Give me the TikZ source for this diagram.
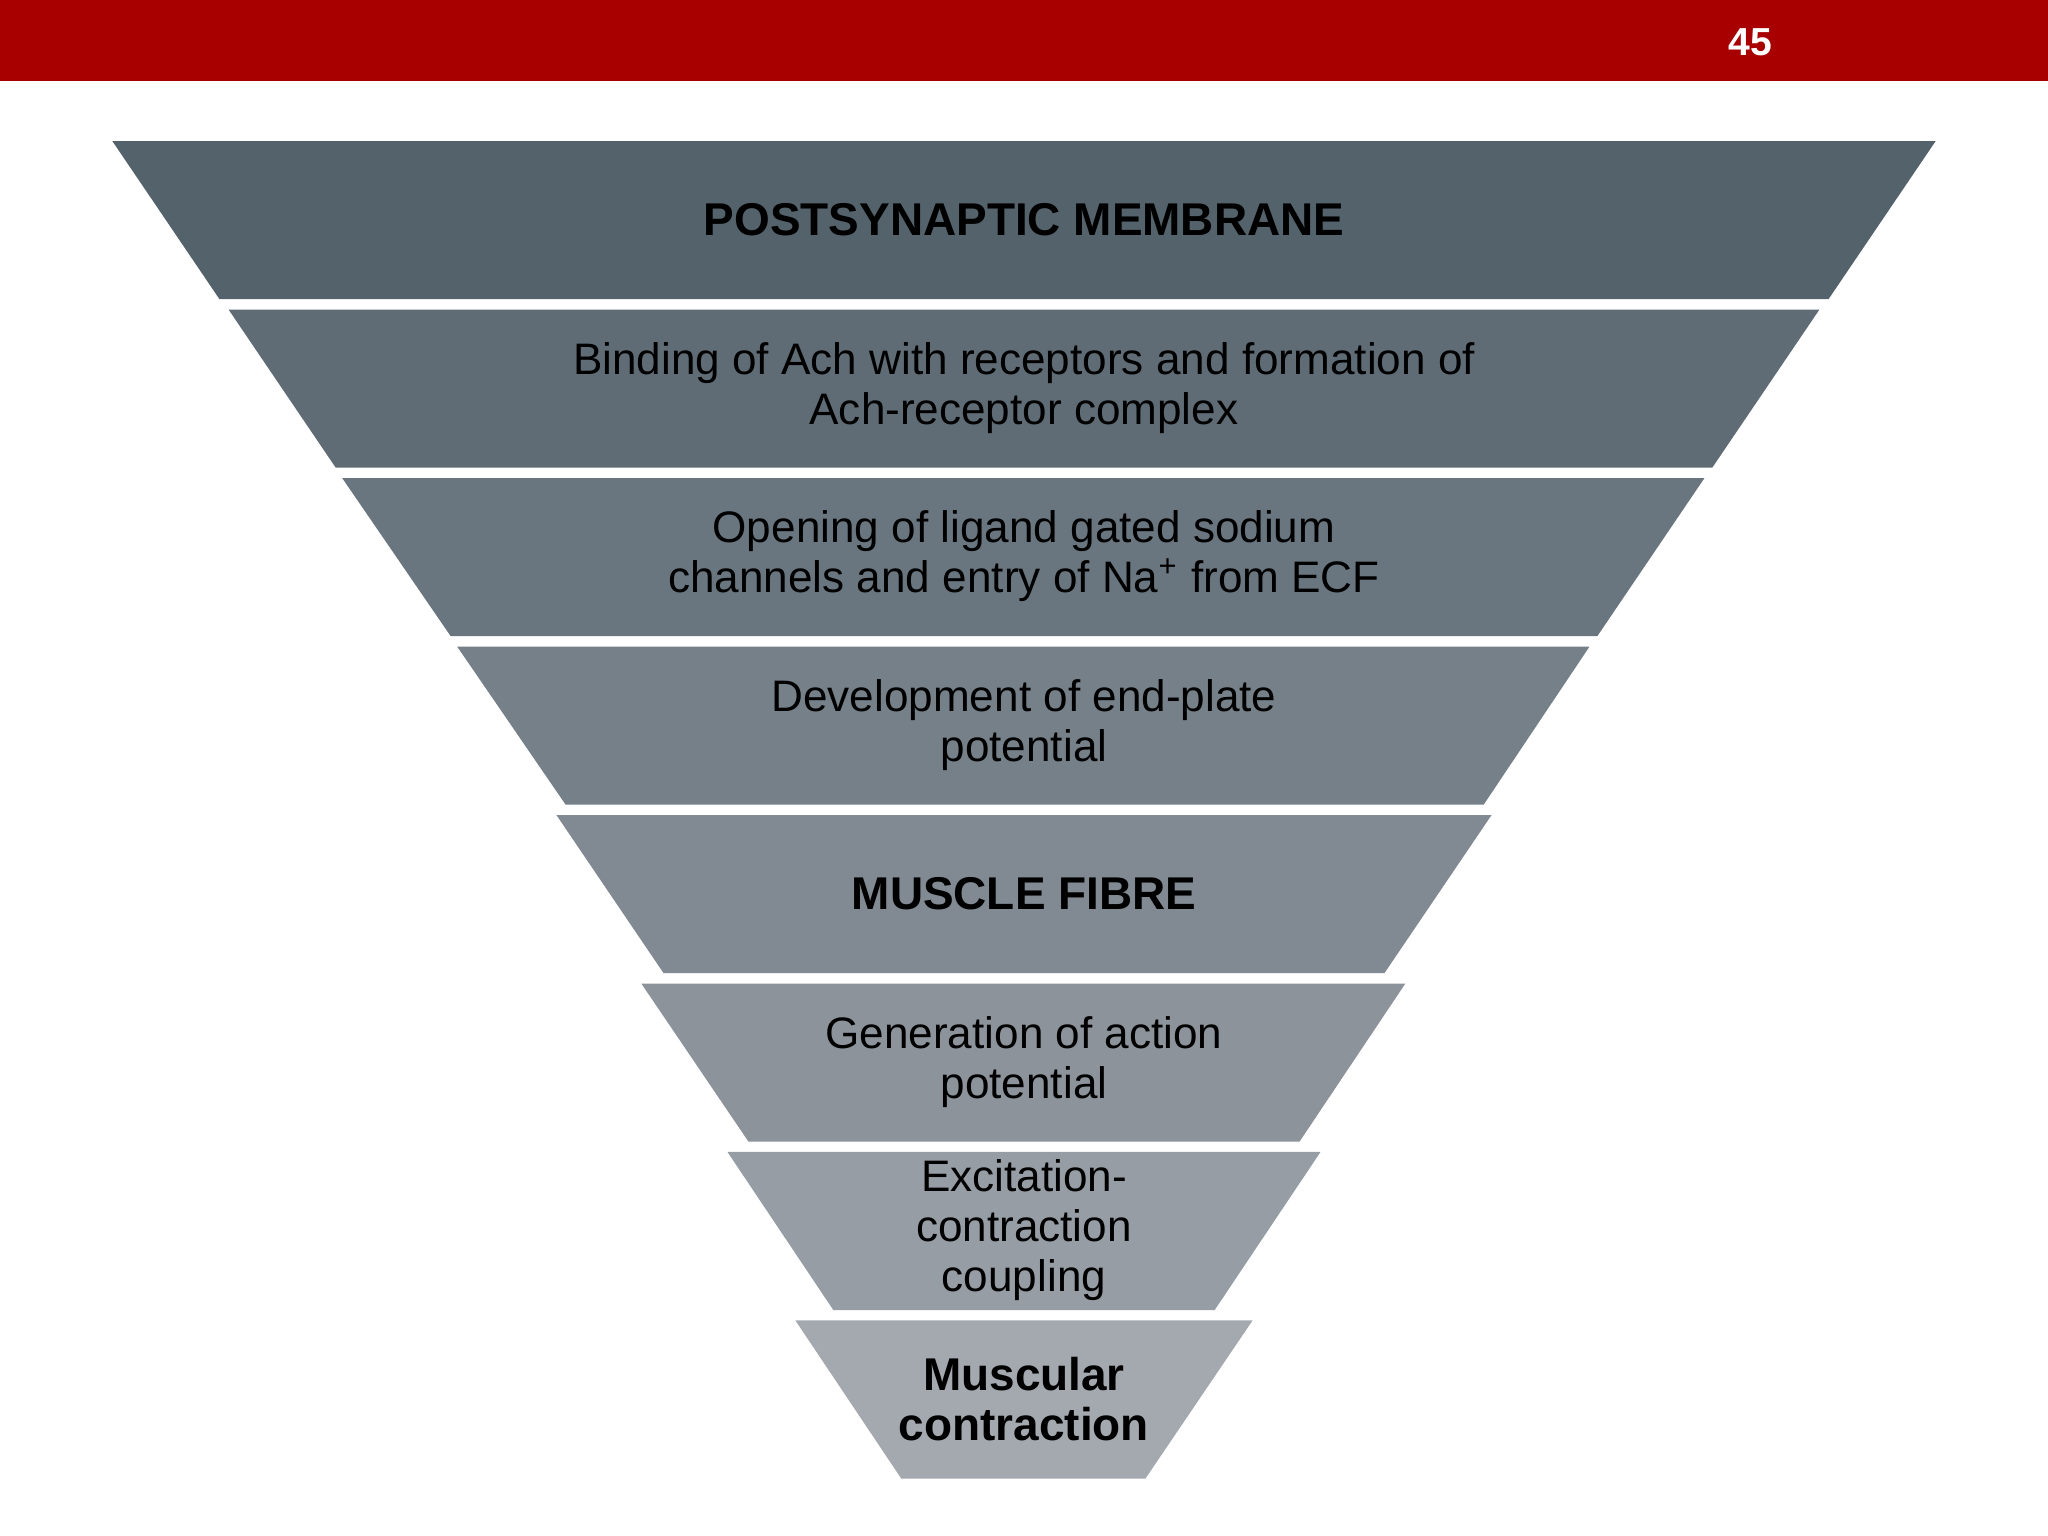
\documentclass[tikz,border=0pt]{standalone}
\usepackage{fontspec}
\setmainfont{Liberation Sans}
\definecolor{barred}{HTML}{A80000}
\definecolor{ctop}{HTML}{54626C}
\definecolor{cbot}{HTML}{A4A8AF}
\begin{document}
\begin{tikzpicture}[x=0.01cm,y=-0.01cm,
  lbl/.style={align=center,font=\fontsize{9.6}{10.9}\selectfont,text=black,inner sep=0},
  hdr/.style={lbl,font=\fontsize{10}{11}\selectfont\bfseries}]
\useasboundingbox (0,0) rectangle (1568,1176);
\fill[white] (0,0) rectangle (1568,1176);
\fill[barred] (0,0) rectangle (1568,62);
\node[text=white,font=\fontsize{8.5}{10}\selectfont\bfseries] (pg) at (1340,32) {45};
\def\lev#1#2#3#4#5#6#7{%
  \fill[cbot!#7!ctop] (#3,#1) -- (#4,#1) -- (#6,#2) -- (#5,#2) -- cycle;}
\lev{108}{229}{86}{1482}{168}{1400}{0}
\lev{237}{358}{175}{1393}{257}{1311}{14}
\lev{366}{487}{262}{1305}{345}{1223}{28}
\lev{495}{616}{350}{1217}{433}{1136}{42}
\lev{624}{745}{426}{1142}{508}{1060}{56}
\lev{753}{874}{491}{1076}{573}{995}{70}
\lev{882}{1003}{557}{1011}{638}{930}{84}
\lev{1011}{1132}{609}{959}{690}{877}{100}
\node[hdr] (t1) at (784,168) {POSTSYNAPTIC MEMBRANE};
\node[lbl] (t2) at (784,297) {Binding of Ach with receptors and formation of\\Ach-receptor complex};
\node[lbl] (t3) at (784,426) {Opening of ligand gated sodium\\channels and entry of Na\textsuperscript{+} from ECF};
\node[lbl] (t4) at (784,555) {Development of end-plate\\potential};
\node[hdr] (t5) at (784,684) {MUSCLE FIBRE};
\node[lbl] (t6) at (784,813) {Generation of action\\potential};
\node[lbl] (t7) at (784,942) {Excitation-\\contraction\\coupling};
\node[hdr] (t8) at (784,1071) {Muscular\\contraction};
\end{tikzpicture}
\end{document}
